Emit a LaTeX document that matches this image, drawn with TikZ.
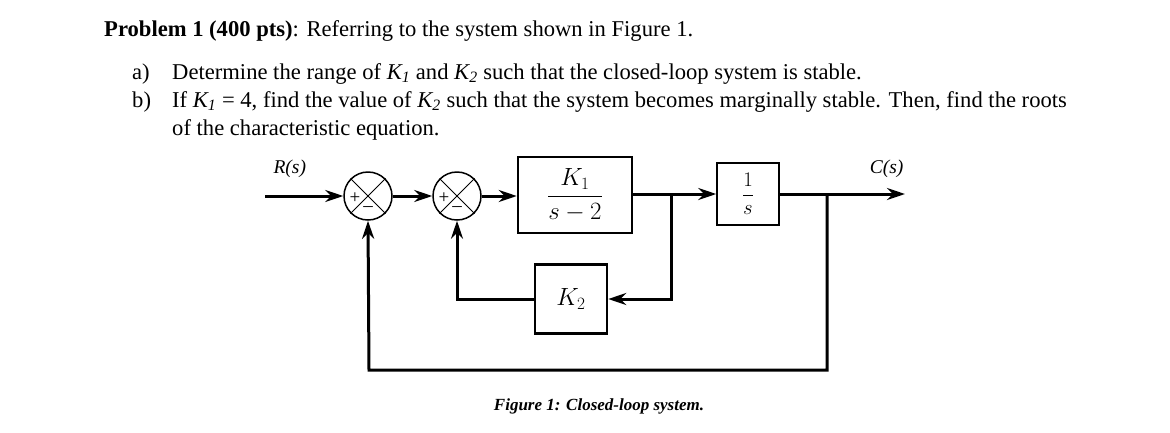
\documentclass[tikz,border=0pt]{standalone}
\usepackage{fontspec}
\setmainfont{Liberation Serif}
\usetikzlibrary{arrows.meta}
\begin{document}
\begin{tikzpicture}[x=1pt,y=-1pt,
  sig/.style={line width=3pt,-{Stealth[length=18pt,width=12pt]}},
  ln/.style={line width=3pt},
  blk/.style={draw,line width=2.5pt,inner sep=0pt},
  sum/.style={draw,circle,line width=1.5pt,minimum size=48pt,inner sep=0pt},
  txt/.style={anchor=base west,inner sep=0pt,font=\fontsize{22.6}{26}\selectfont}]
\useasboundingbox (0,0) rectangle (1170,432);
\node[txt] (t0) at (104,36) {\textbf{Problem 1 (400 pts)}: Referring to the system shown in Figure 1.};
\node[txt] (ta) at (132,79) {a)};
\node[txt] (ta2) at (172,79) {Determine the range of \textit{K\textsubscript{1}} and \textit{K\textsubscript{2}} such that the closed-loop system is stable.};
\node[txt] (tb) at (132,107) {b)};
\node[txt] (tb2) at (172,107) {If \textit{K\textsubscript{1}} = 4, find the value of \textit{K\textsubscript{2}} such that the system becomes marginally stable. Then, find the roots};
\node[txt] (tc) at (172,135) {of the characteristic equation.};

\node[sum] (s1) at (368,196) {};
\node[sum] (s2) at (457,196) {};
\foreach \s in {s1,s2}{
  \draw[line width=1pt] (\s.north west)--(\s.south east) (\s.north east)--(\s.south west);
  \node[font=\fontsize{19}{19}\selectfont] at ([xshift=-13pt,yshift=-2pt]\s.center) {+};
  \node[font=\fontsize{19}{19}\selectfont] at ([yshift=-13pt]\s.center) {--};
}
\node[blk,minimum width=114pt,minimum height=76pt] (g1) at (575,195) {};
\node[font=\fontsize{24}{26}\selectfont] (g1t) at (g1.center) {$\displaystyle\frac{K_1}{s-2}$};
\node[blk,minimum width=62pt,minimum height=62pt,line width=1.5pt] (g2) at (748,194) {};
\node[font=\fontsize{22}{24}\selectfont] (g2t) at (g2.center) {$\displaystyle\frac{1}{s}$};
\node[blk,minimum width=72pt,minimum height=69pt,font=\fontsize{24}{26}\selectfont] (h) at (571,299) {$K_2$};

\coordinate (in) at (265,196);
\coordinate (b1) at (671,194);
\coordinate (b2) at (827,194);
\coordinate (out) at (905,194);
\node[anchor=base west,font=\fontsize{19.5}{22}\selectfont\itshape] (R) at (270,173) {R(s)};
\node[anchor=base east,font=\fontsize{19.5}{22}\selectfont\itshape] (C) at (907,173) {C(s)};

\draw[sig] (in) -- (s1.west);
\draw[sig] (s1.east) -- (s2.west);
\draw[sig] (s2.east) -- (g1.west |- s2.east);
\draw[ln] (g1.east |- b1) -- (b1);
\draw[sig] (b1) -- (g2.west);
\draw[ln] (g2.east) -- (b2);
\draw[sig] (b2) -- (out);
\draw[sig] (b1) |- (h.east);
\draw[sig] (h.west) -| (s2.south);
\draw[sig] (b2) |- (369,370) -- (s1.south);
\node[anchor=base,font=\fontsize{17}{20}\selectfont\bfseries\itshape] (cap) at (599,410) {Figure 1: Closed-loop system.};
\end{tikzpicture}
\end{document}
